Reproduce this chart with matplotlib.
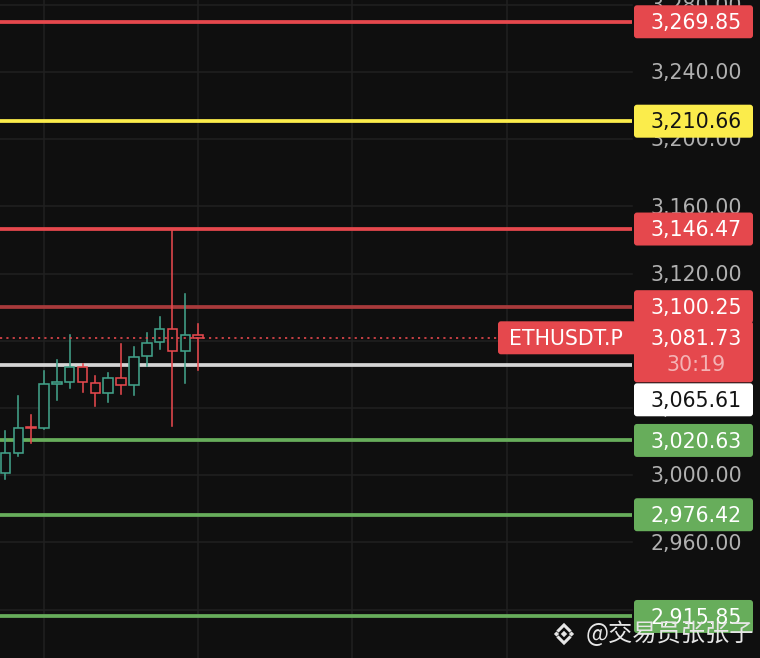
import matplotlib
matplotlib.use("Agg")
import matplotlib.pyplot as plt
from matplotlib.patches import Rectangle, FancyBboxPatch, Polygon

# --- data ---
opens  = [3001.0, 3013.3, 3028.9, 3027.8, 3054.0, 3055.6, 3064.3, 3054.9,
          3048.6, 3057.9, 3053.4, 3070.6, 3079.0, 3087.1, 3073.6, 3083.5]
closes = [3013.3, 3028.2, 3028.2, 3054.0, 3055.6, 3064.3, 3055.2, 3048.6,
          3057.9, 3053.4, 3070.4, 3078.8, 3087.1, 3073.8, 3083.5, 3081.73]
highs  = [3026.2, 3047.0, 3035.7, 3061.9, 3068.5, 3083.3, 3065.9, 3058.7,
          3060.7, 3078.0, 3076.2, 3084.3, 3094.0, 3146.47, 3107.9, 3089.9]
lows   = [2997.4, 3011.3, 3019.2, 3027.5, 3044.8, 3052.0, 3049.6, 3041.3,
          3043.6, 3048.4, 3047.6, 3065.1, 3075.2, 3029.4, 3054.6, 3062.3]

level_prices = [3269.85, 3210.66, 3146.47, 3100.25, 3065.61, 3020.63, 2976.42, 2915.85]
level_lines  = ['#e5484d', '#fbec4b', '#e5484d', '#a83a3b', '#d4d4d4', '#67ad5b', '#67ad5b', '#67ad5b']
level_boxes  = ['#e5484d', '#fbec4b', '#e5484d', '#e5484d', '#ffffff', '#67ad5b', '#67ad5b', '#67ad5b']
level_text   = ['white', '#131313', 'white', 'white', '#131313', 'white', 'white', 'white']

tick_values = [3280, 3240, 3200, 3160, 3120, 3080, 3040, 3000, 2960, 2920]
vgrid_bars = [3, 15, 27, 39]

symbol = 'ETHUSDT.P'
last_price = 3081.73
countdown = '30:19'
watermark = '@交易员张张子'

# --- styling ---
BG = '#0f0f0f'
GRID = '#202020'
UP = '#42a189'
DOWN = '#e5484d'
W, H = 760, 658
bar_px = 12.85
ppu = 1.68
x0 = -0.424
ytop = 3282.8
plot_right = 632
FS = 14.8
TXT_DY = 1.3  # nudge digits down to sit centred in the boxes

fig = plt.figure(figsize=(W / 100, H / 100), dpi=100, facecolor=BG)
ax = fig.add_axes([0, 0, 1, 1])
ax.set_facecolor(BG)
ax.set_xlim(x0, x0 + W / bar_px)
ax.set_ylim(ytop - H / ppu, ytop)
ax.axis('off')

xr = x0 + plot_right / bar_px

# grid
for v in tick_values:
    ax.plot([x0, xr], [v, v], color=GRID, lw=1.1, zorder=0)
for b in vgrid_bars:
    ax.plot([b, b], [ytop - H / ppu, ytop], color=GRID, lw=1.1, zorder=0)

# level lines
for p, c in zip(level_prices, level_lines):
    ax.plot([x0, xr], [p, p], color=c, lw=2.7, zorder=2, solid_capstyle='butt')

# candles
for i, (o, h, l, c) in enumerate(zip(opens, highs, lows, closes)):
    col = UP if c >= o else DOWN
    ax.plot([i, i], [l, h], color=col, lw=1.15, zorder=3)
    lo = min(o, c)
    ax.add_patch(Rectangle((i - 0.37, lo), 0.74, abs(c - o), facecolor=BG,
                           edgecolor=col, lw=1.15, zorder=4))

# current price dotted line
ax.plot([x0, x0 + 498 / bar_px], [last_price, last_price], color=DOWN, lw=1.2,
        linestyle=(0, (1.3, 2.5)), zorder=5)

# --- overlay in pixel space for labels ---
ov = fig.add_axes([0, 0, 1, 1], zorder=10)
ov.set_xlim(0, W)
ov.set_ylim(H, 0)
ov.axis('off')
ov.patch.set_alpha(0)


def py(price):
    return H - ax.transData.transform((0, price))[1]


tx = 696
for v in tick_values:
    ov.text(tx, py(v) + TXT_DY, f'{v:,.2f}', ha='center', va='center', color='#b0b0b0',
            fontsize=FS, zorder=1)


def box(x, yc, w, h, color, z=5):
    ov.add_patch(FancyBboxPatch((x, yc - h / 2), w, h,
                                boxstyle='round,pad=0,rounding_size=3',
                                facecolor=color, edgecolor='none', zorder=z))


bx, bw, bh = 634, 119, 33
cur_y = py(last_price)
cur_top = cur_y - bh / 2
cur_bot = cur_top + 61

for p, bc, tc in zip(level_prices, level_boxes, level_text):
    yc = py(p)
    if p == 3065.61:
        yc = cur_bot + 1 + bh / 2
    box(bx, yc, bw, bh, bc)
    ov.text(tx, yc + TXT_DY, f'{p:,.2f}', ha='center', va='center', color=tc,
            fontsize=FS, zorder=8)

# current price box with countdown
ov.add_patch(FancyBboxPatch((bx, cur_top), bw, cur_bot - cur_top,
                            boxstyle='round,pad=0,rounding_size=3',
                            facecolor=DOWN, edgecolor='none', zorder=6))
ov.text(tx, cur_y + TXT_DY, f'{last_price:,.2f}', ha='center', va='center', color='white',
        fontsize=FS, zorder=8)
ov.text(tx, cur_y + 26 + TXT_DY, countdown, ha='center', va='center', color='#f4b3b5',
        fontsize=FS, zorder=8)

# symbol tag
ov.add_patch(FancyBboxPatch((498, cur_top), 140, bh,
                            boxstyle='round,pad=0,rounding_size=3',
                            facecolor=DOWN, edgecolor='none', zorder=5))
ov.text(566, cur_y + TXT_DY, symbol, ha='center', va='center', color='white',
        fontsize=FS, zorder=8)

# watermark: logo + handle
lx, ly = 564, 634
wm = '#e6e6e6'
def diamond(cx, cy, r):
    ov.add_patch(Polygon([(cx - r, cy), (cx, cy - r), (cx + r, cy), (cx, cy + r)],
                         closed=True, facecolor=wm, edgecolor='none', zorder=12))
diamond(lx, ly, 3.2)
diamond(lx - 7.5, ly, 2.6)
diamond(lx + 7.5, ly, 2.6)
ov.plot([lx - 5.5, lx, lx + 5.5], [ly - 3.5, ly - 9, ly - 3.5], color=wm, lw=2.2,
        zorder=12, solid_joinstyle='miter')
ov.plot([lx - 5.5, lx, lx + 5.5], [ly + 3.5, ly + 9, ly + 3.5], color=wm, lw=2.2,
        zorder=12, solid_joinstyle='miter')
ov.text(586, ly, watermark, ha='left', va='center', color=wm, fontsize=17.5,
        family=['Noto Sans CJK SC', 'DejaVu Sans'], zorder=12)

fig.savefig('out.png', dpi=100, facecolor=BG)
